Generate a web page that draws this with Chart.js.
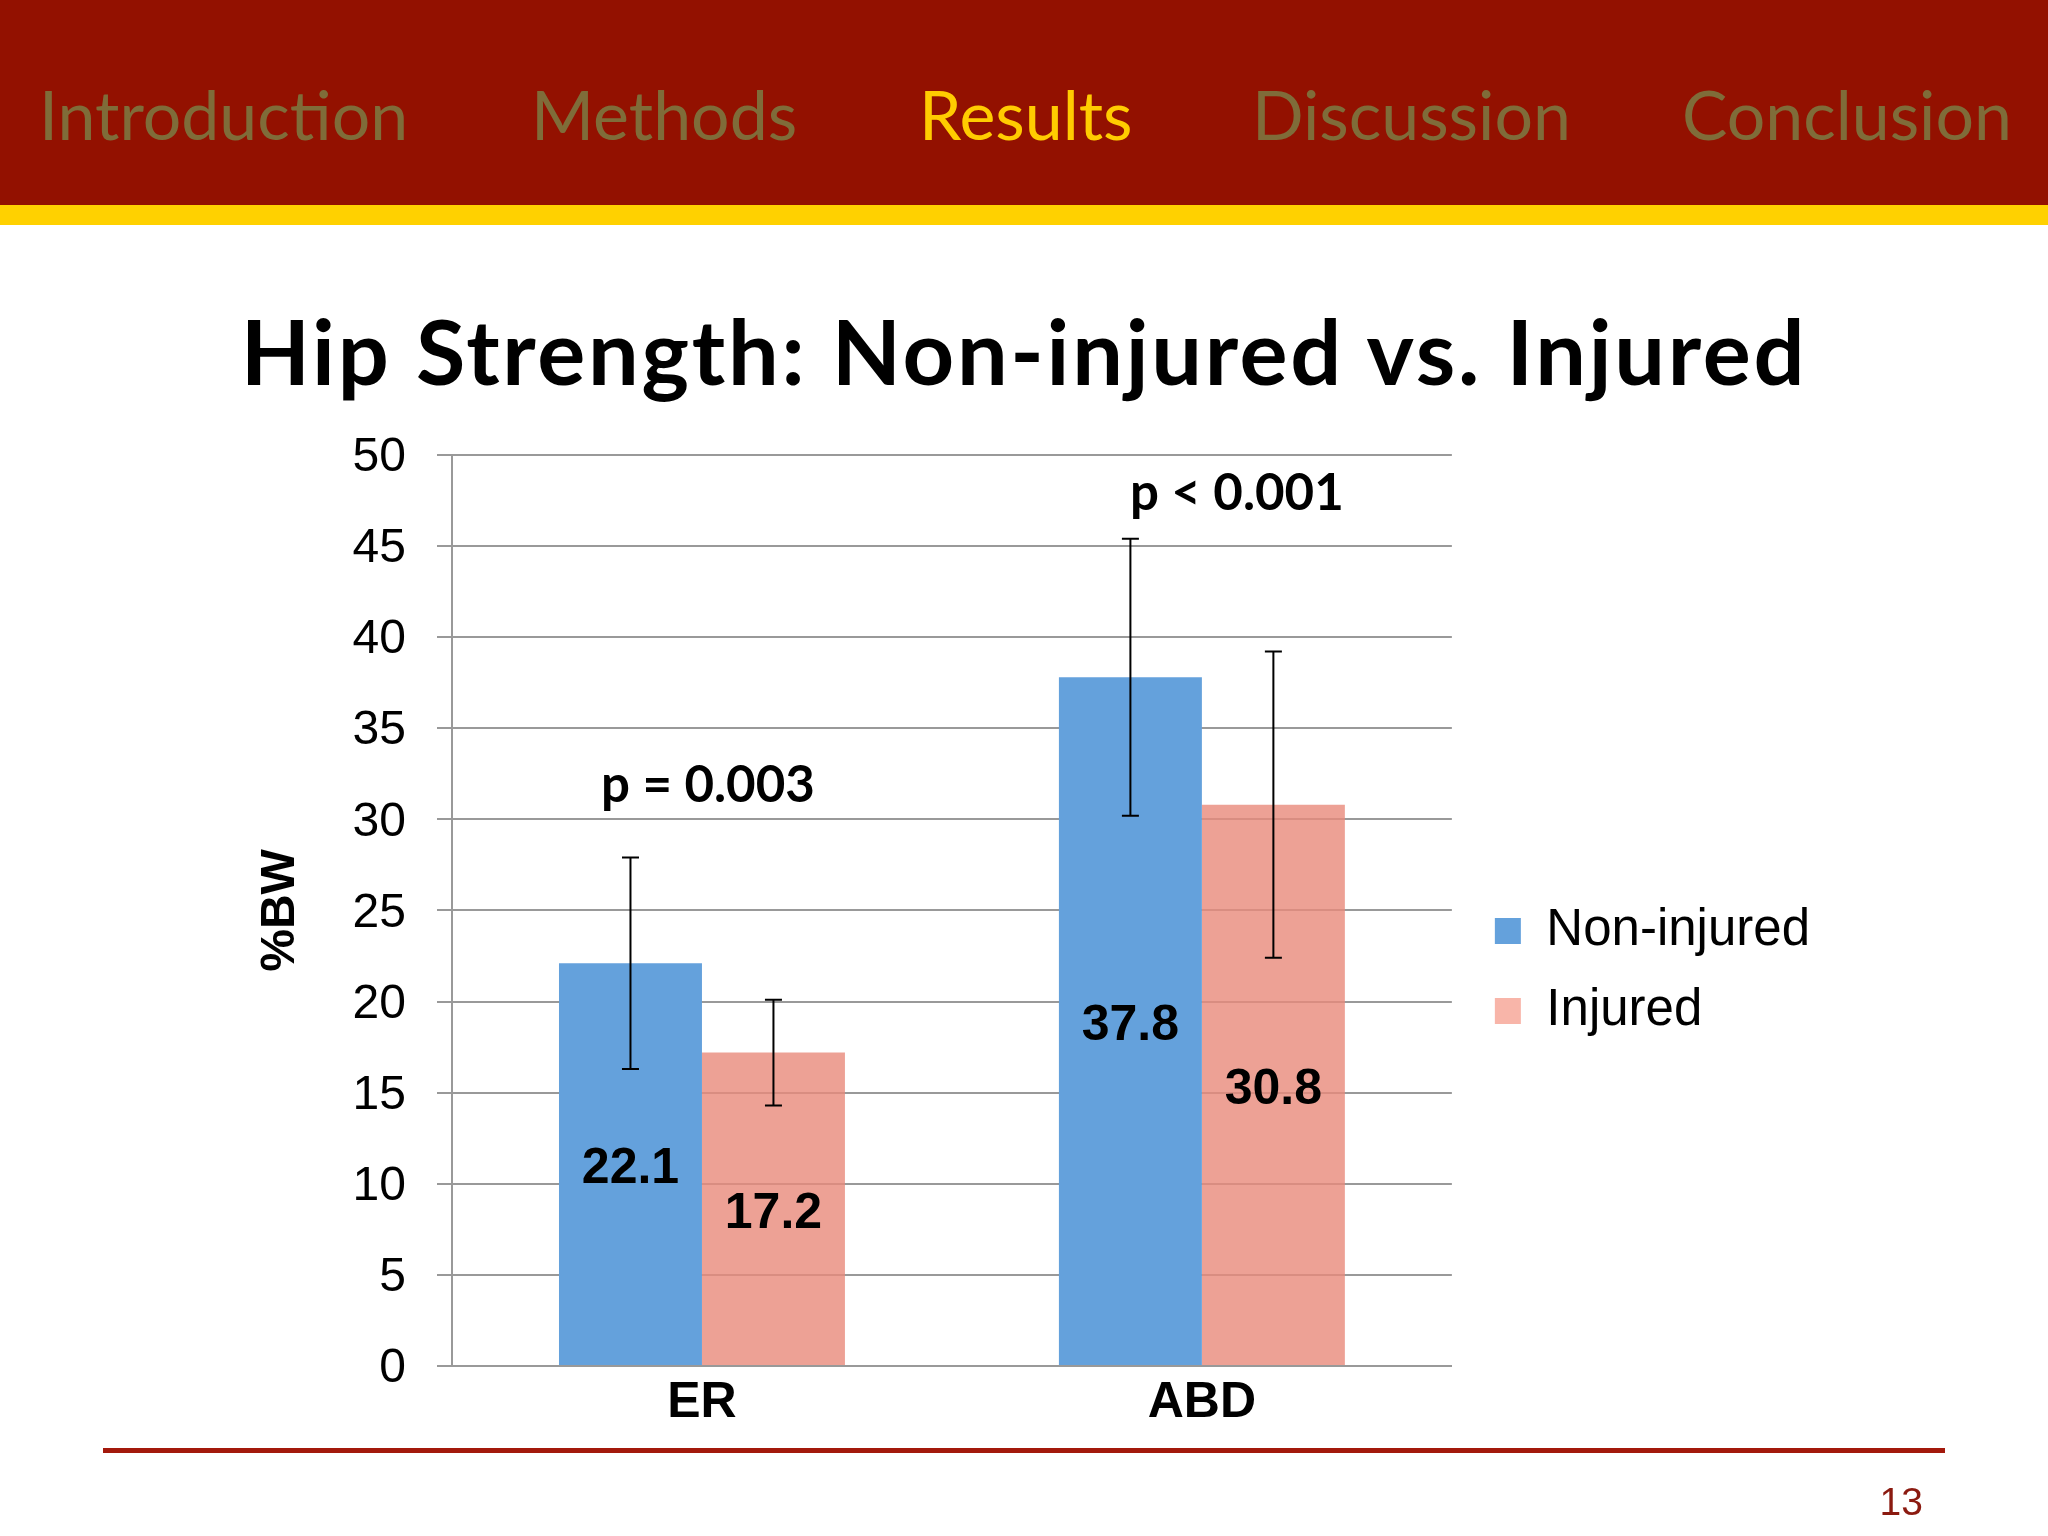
<!DOCTYPE html>
<html>
<head>
<meta charset="utf-8">
<script src="https://cdn.jsdelivr.net/npm/chart.js@4.4.1/dist/chart.umd.min.js"></script>
<style>
    html, body { margin: 0; padding: 0; background: #ffffff; }
    .slide { position: relative; width: 2048px; height: 1536px; overflow: hidden; background: #ffffff; }
    .header { position: absolute; left: 0; top: 0; width: 2048px; height: 205px; background: #931100; }
    .band { position: absolute; left: 0; top: 205px; width: 2048px; height: 20px; background: #ffd100; }
    .nav { position: absolute; top: 80px; font-family: Lato, 'Open Sans', sans-serif; font-size: 68px; line-height: 1; color: #7f6c39; white-space: nowrap; }
    .nav.active { color: #ffcc00; }
    .title { position: absolute; left: 0; width: 2048px; top: 305px; text-align: center; font-family: Lato, 'Open Sans', sans-serif; font-weight: 700; font-size: 90px; letter-spacing: 2.7px; line-height: 1; color: #000; white-space: nowrap; }
    .chartBox { position: absolute; left: 0; top: 395px; width: 2048px; height: 1105px; }
    .footLine { position: absolute; left: 103px; top: 1448px; width: 1842px; height: 5px; background: #a3190c; }
    .pageNum { position: absolute; right: 125px; top: 1482px; font-family: 'Liberation Sans', Arial, sans-serif; font-size: 39px; line-height: 1; color: #8b1a10; }
</style>
</head>
<body>
<div class="slide">
    <div class="header"></div>
    <div class="band"></div>
    <div class="nav" style="left: 39px;">Introduction</div>
    <div class="nav" style="left: 531px;">Methods</div>
    <div class="nav active" style="left: 919px;">Results</div>
    <div class="nav" style="left: 1252px;">Discussion</div>
    <div class="nav" style="left: 1682px;">Conclusion</div>
    <div class="title">Hip Strength: Non-injured vs. Injured</div>
    <div class="chartBox"><canvas id="hipChart" width="2048" height="1105"></canvas></div>
    <div class="footLine"></div>
    <div class="pageNum">13</div>
</div>
<script>
const categories = ['ER', 'ABD'];
const seriesNames = ['Non-injured', 'Injured'];
const nonInjured = [22.1, 37.8];
const injured = [17.2, 30.8];
const nonInjuredSD = [5.8, 7.6];
const injuredSD = [2.9, 8.4];
const pTexts = ['p = 0.003', 'p < 0.001'];
// where the p labels sit, in axis units
const pAnchorY = [31.85, 47.85];
const pOffsetX = [6, 35];

const blue = '#64a1dc';
const pink = 'rgba(233, 137, 122, 0.8)';
const legendColors = ['#64a1dc', '#f8b5a9'];

Chart.defaults.font.family = "'Liberation Sans', Arial, sans-serif";
Chart.defaults.color = '#000';

// error bars, value labels and p values
const extrasPlugin = {
    id: 'extras',
    afterLayout(chart) {
        // nudge the legend a little further from the plot
        if (chart.legend) {
            chart.legend.left += 14;
            chart.legend.right += 14;
        }
    },
    afterDatasetsDraw(chart) {
        const ctx = chart.ctx;
        const yScale = chart.scales.y;
        const xScale = chart.scales.x;
        const sds = [nonInjuredSD, injuredSD];

        chart.data.datasets.forEach((ds, di) => {
            const meta = chart.getDatasetMeta(di);
            meta.data.forEach((bar, i) => {
                const v = ds.data[i];
                const top = yScale.getPixelForValue(v + sds[di][i]);
                const bot = yScale.getPixelForValue(v - sds[di][i]);
                ctx.save();
                ctx.strokeStyle = '#000';
                ctx.lineWidth = 2;
                ctx.beginPath();
                ctx.moveTo(bar.x, top);
                ctx.lineTo(bar.x, bot);
                ctx.moveTo(bar.x - 8.5, top);
                ctx.lineTo(bar.x + 8.5, top);
                ctx.moveTo(bar.x - 8.5, bot);
                ctx.lineTo(bar.x + 8.5, bot);
                ctx.stroke();

                ctx.fillStyle = '#000';
                ctx.font = "bold 50px 'Liberation Sans', Arial, sans-serif";
                ctx.textAlign = 'center';
                ctx.textBaseline = 'middle';
                ctx.fillText(v.toFixed(1), bar.x, (bar.y + bar.base) / 2 + 5);
                ctx.restore();
            });
        });

        ctx.save();
        ctx.fillStyle = '#000';
        ctx.font = "bold 51px Lato, 'Open Sans', sans-serif";
        ctx.textAlign = 'center';
        ctx.textBaseline = 'middle';
        pTexts.forEach((t, i) => {
            ctx.fillText(t, xScale.getPixelForValue(i) + pOffsetX[i], yScale.getPixelForValue(pAnchorY[i]));
        });
        ctx.restore();
    }
};

const hipCtx = document.getElementById('hipChart').getContext('2d');
const hipChart = new Chart(hipCtx, {
    type: 'bar',
    data: {
        labels: categories,
        datasets: [
            { label: seriesNames[0], data: nonInjured, backgroundColor: blue, borderWidth: 0 },
            { label: seriesNames[1], data: injured, backgroundColor: pink, borderWidth: 0 }
        ]
    },
    options: {
        responsive: false,
        animation: false,
        layout: { padding: { left: 220, top: 9, right: 242, bottom: 0 } },
        datasets: {
            bar: { categoryPercentage: 0.572, barPercentage: 1 }
        },
        scales: {
            x: {
                grid: { display: false, drawTicks: false },
                border: { display: true, color: '#999', width: 2 },
                ticks: { font: { size: 50, weight: 'bold' }, padding: 7, color: '#000' },
                afterFit: (scale) => { scale.height = 134; }
            },
            y: {
                min: 0,
                max: 50,
                ticks: { stepSize: 5, font: { size: 48 }, padding: 31, labelOffset: 3, color: '#000' },
                grid: { color: '#999', lineWidth: 2, tickLength: 15 },
                border: { color: '#999', width: 2 },
                title: {
                    display: true,
                    text: '%BW',
                    font: { size: 48, weight: 'bold' },
                    color: '#000',
                    padding: { top: 32, bottom: 0 }
                },
                afterFit: (scale) => { scale.width = 232; }
            }
        },
        plugins: {
            tooltip: { enabled: false },
            legend: {
                position: 'right',
                align: 'center',
                title: { display: true, text: '', font: { size: 10 }, padding: { top: 0, bottom: 26 } },
                labels: {
                    boxWidth: 26,
                    boxHeight: 26,
                    padding: 29,
                    color: '#000',
                    font: { size: 51 },
                    generateLabels: (chart) => chart.data.datasets.map((ds, i) => ({
                        text: ds.label,
                        fillStyle: legendColors[i],
                        strokeStyle: legendColors[i],
                        lineWidth: 0,
                        datasetIndex: i
                    }))
                }
            }
        }
    },
    plugins: [extrasPlugin]
});
</script>
</body>
</html>
